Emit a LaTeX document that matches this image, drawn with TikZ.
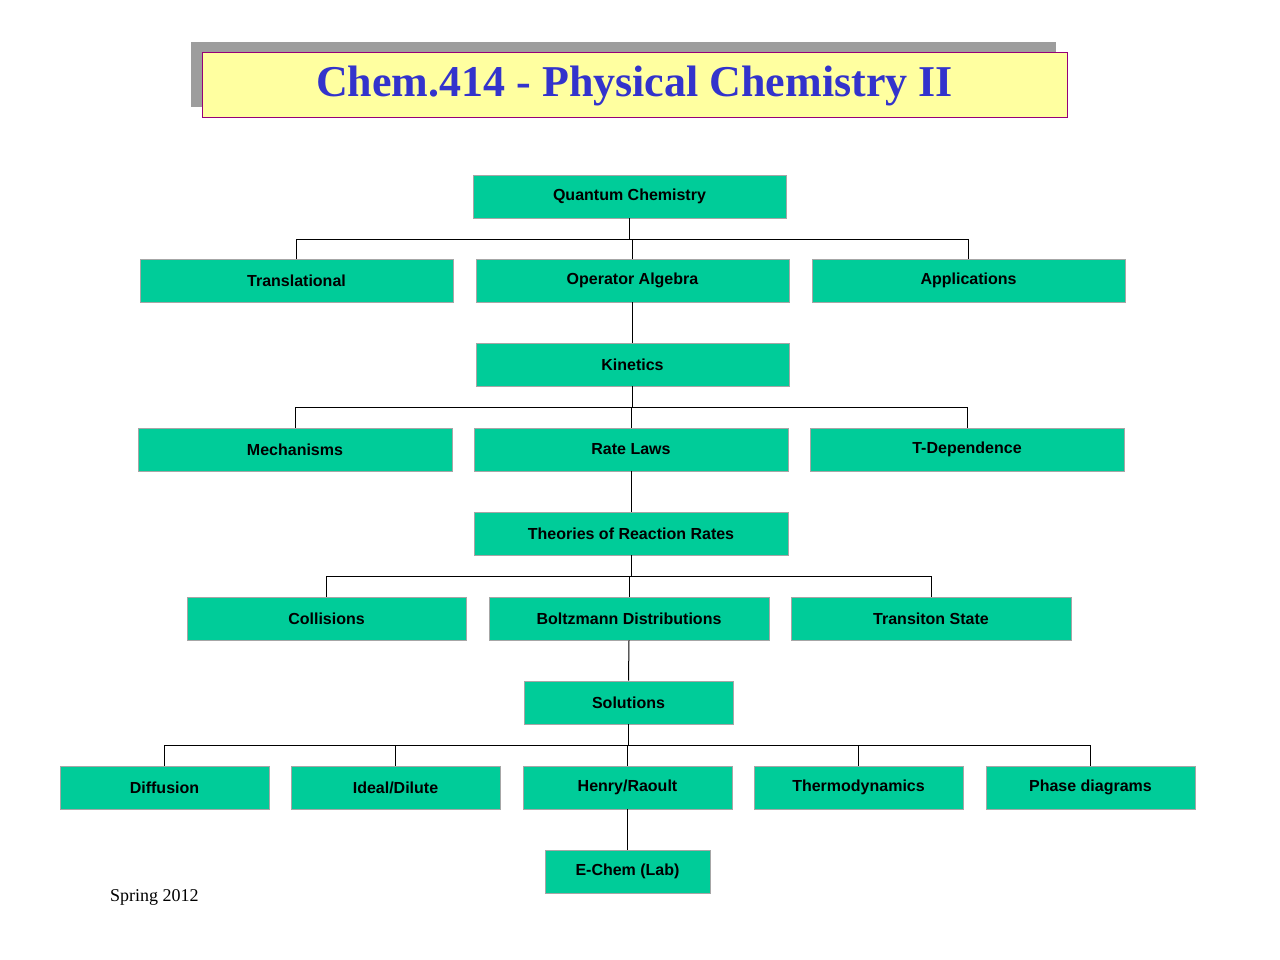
\documentclass[tikz,border=0pt]{standalone}
\usepackage{fontspec}
\setmainfont{Liberation Serif}
\setsansfont{Liberation Sans}
\begin{document}
\begin{tikzpicture}[x=1pt,y=-1pt,
  bx/.style={draw=gray!70,fill={rgb,255:red,0;green,204;blue,153},line width=0.8pt,minimum height=43pt,inner sep=0pt,font=\sffamily\bfseries\fontsize{16}{18}\selectfont},
  ln/.style={line width=1pt}]
\useasboundingbox (0,0) rectangle (1280,960);
\fill[gray!90!black!70] (191,42) rectangle (1056,107);
\node[draw={rgb,255:red,150;green,0;blue,120},fill={rgb,255:red,255;green,255;blue,160},line width=1pt,minimum width=865pt,minimum height=65pt,inner sep=0pt,text={rgb,255:red,51;green,51;blue,204},font=\bfseries\fontsize{44}{50}\selectfont] (title) at (634.5,85.5) {Chem.414 - Physical Chemistry II};
\newcommand\bxn[6]{\node[bx,minimum width=#4-#3] (#1) at ({(#3+#4)/2},#5) {#6};}
\bxn{q}{}{473}{786}{196.5}{Quantum Chemistry}
\bxn{tr}{}{140}{453}{280.5}{Translational}
\bxn{op}{}{476}{789}{280.5}{Operator Algebra}
\bxn{ap}{}{812}{1125}{280.5}{Applications}
\bxn{ki}{}{476}{789}{364.5}{Kinetics}
\bxn{me}{}{138}{452}{449.5}{Mechanisms}
\bxn{rl}{}{474}{788}{449.5}{Rate Laws}
\bxn{td}{}{810}{1124}{449.5}{T-Dependence}
\bxn{th}{}{474}{788}{533.5}{Theories of Reaction Rates}
\bxn{co}{}{187}{466}{618.5}{Collisions}
\bxn{bo}{}{489}{769}{618.5}{Boltzmann Distributions}
\bxn{ts}{}{791}{1071}{618.5}{Transiton State}
\bxn{so}{}{524}{733}{702.5}{Solutions}
\bxn{di}{}{60}{269}{787.5}{Diffusion}
\bxn{id}{}{291}{500}{787.5}{Ideal/Dilute}
\bxn{he}{}{523}{732}{787.5}{Henry/Raoult}
\bxn{tm}{}{754}{963}{787.5}{Thermodynamics}
\bxn{ph}{}{986}{1195}{787.5}{Phase diagrams}
\bxn{ec}{}{545}{710}{871.5}{E-Chem (Lab)}
\foreach \p/\c in {q/tr,q/op,q/ap,ki/me,ki/rl,ki/td,th/co,th/bo,th/ts,so/di,so/id,so/he,so/tm,so/ph}
  \draw[ln] (\p.south) -- ++(0,21) -| (\c.north);
\foreach \p/\c in {op/ki,rl/th,bo/so,he/ec}
  \draw[ln] (\p.south) -- (\c.north);
\node[anchor=west,font=\fontsize{18}{20}\selectfont,inner sep=0pt] (sp) at (110,897) {Spring 2012};
\end{tikzpicture}
\end{document}
